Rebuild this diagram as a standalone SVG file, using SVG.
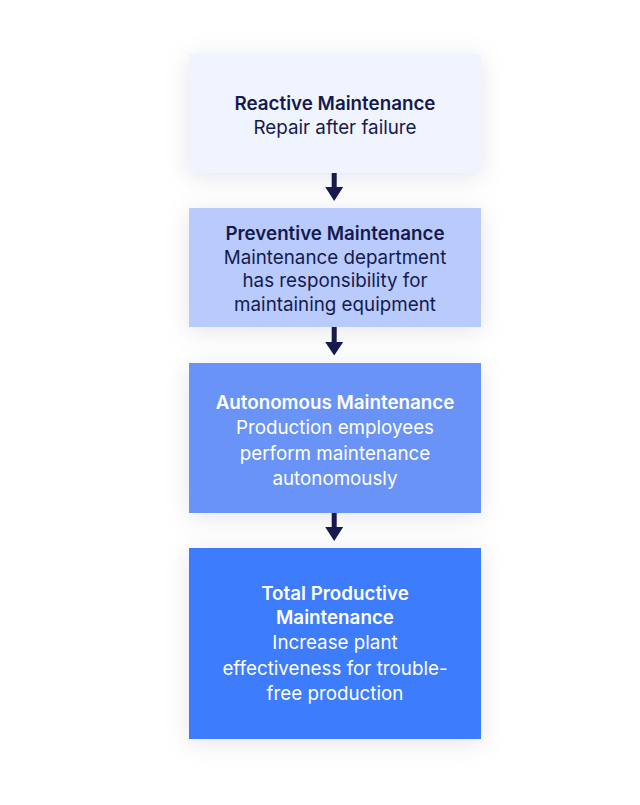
<svg xmlns="http://www.w3.org/2000/svg" width="640" height="805" viewBox="0 0 640 805">
<defs>
<filter id="sh" x="-30%" y="-30%" width="160%" height="160%">
<feDropShadow dx="0" dy="4" stdDeviation="12" flood-color="#1a2050" flood-opacity="0.10"/>
</filter>
</defs>
<style>
.t{font-family:Inter,"Noto Sans","Liberation Sans",sans-serif;font-size:18.8px;text-anchor:middle}
.b{font-weight:600}
.dk{fill:#151a4e}
.wh{fill:#ffffff}
.arr{fill:#17194f}
</style>
<rect width="640" height="805" fill="#ffffff"/>
<g id="n1">
<rect x="189" y="54" width="292" height="119" fill="#f0f4fe" filter="url(#sh)"/>
<text class="t b dk" x="335" y="110">Reactive Maintenance</text>
<text class="t dk" x="335" y="133.5">Repair after failure</text>
</g>
<g id="n2">
<rect x="189" y="208" width="292" height="119" fill="#b8cbfc" filter="url(#sh)"/>
<text class="t b dk" x="335" y="240">Preventive Maintenance</text>
<text class="t dk" x="335" y="263.5">Maintenance department</text>
<text class="t dk" x="335" y="287">has responsibility for</text>
<text class="t dk" x="335" y="310.5">maintaining equipment</text>
</g>
<g id="n3">
<rect x="189" y="363" width="292" height="150" fill="#6b93f7" filter="url(#sh)"/>
<text class="t b wh" x="335" y="408.5">Autonomous Maintenance</text>
<text class="t wh" x="335" y="434">Production employees</text>
<text class="t wh" x="335" y="459.5">perform maintenance</text>
<text class="t wh" x="335" y="485">autonomously</text>
</g>
<g id="n4">
<rect x="189" y="548" width="292" height="191" fill="#3d7bfc" filter="url(#sh)"/>
<text class="t b wh" x="335" y="599.5">Total Productive</text>
<text class="t b wh" x="335" y="624">Maintenance</text>
<text class="t wh" x="335" y="649">Increase plant</text>
<text class="t wh" x="335" y="674.5">effectiveness for trouble-</text>
<text class="t wh" x="335" y="700">free production</text>
</g>
<g id="connectors">
<path class="arr" d="M331.7 173 h5 v14 h6.5 l-9 14 l-9 -14 h6.5 z"/>
<path class="arr" d="M331.7 327 h5 v15 h6.5 l-9 13.5 l-9 -13.5 h6.5 z"/>
<path class="arr" d="M331.7 513 h5 v14 h6.5 l-9 14 l-9 -14 h6.5 z"/>
</g>
</svg>
